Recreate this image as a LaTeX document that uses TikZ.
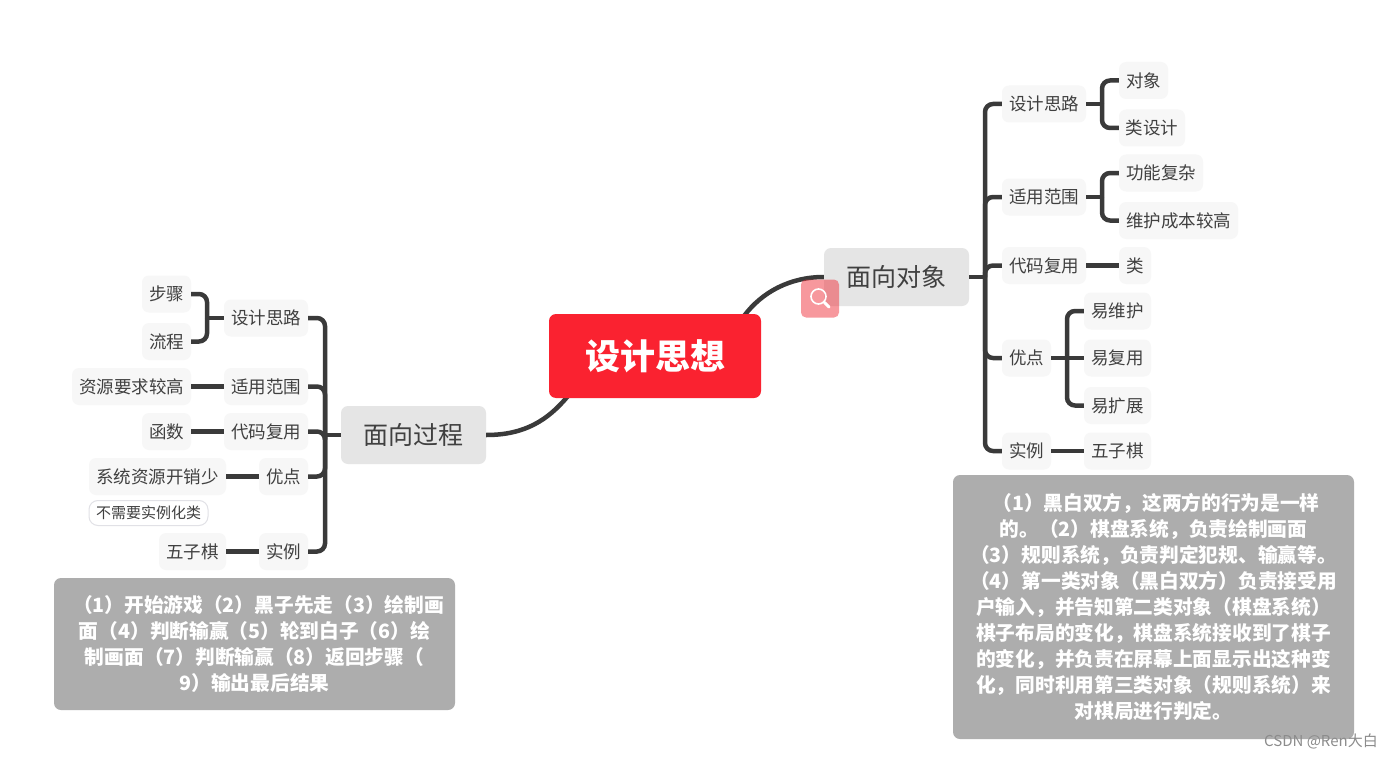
\documentclass[tikz,border=0pt]{standalone}
\usepackage{fontspec}
\setmainfont{Noto Sans CJK SC}
\definecolor{rootred}{RGB}{250,34,48}
\definecolor{mainbox}{RGB}{229,229,229}
\definecolor{leafbox}{RGB}{247,247,247}
\definecolor{notebox}{RGB}{173,173,173}
\definecolor{inktext}{RGB}{64,64,64}
\definecolor{linkink}{RGB}{58,58,58}
\definecolor{markgray}{RGB}{140,140,140}
\definecolor{tagline}{RGB}{225,225,230}
\definecolor{iconred}{RGB}{240,50,60}
\tikzset{
  rootbox/.style={fill=rootred,rounded corners=7pt,text=white,font=\fontsize{35}{40}\selectfont\bfseries,minimum width=212pt,minimum height=84pt,inner sep=0pt},
  mainnode/.style={fill=mainbox,rounded corners=7pt,text=inktext,font=\fontsize{25}{29}\selectfont,minimum width=145pt,minimum height=58pt,inner sep=0pt},
  leaf/.style={fill=leafbox,rounded corners=7pt,text=inktext,font=\fontsize{17.5}{21}\selectfont,minimum height=37pt,inner sep=0pt},
  tagnode/.style={fill=white,draw=tagline,line width=1pt,rounded corners=9pt,text=inktext,font=\fontsize{15}{18}\selectfont,minimum height=25pt,inner sep=0pt},
  notenode/.style={fill=notebox,rounded corners=7pt,text=white,font=\fontsize{19.7}{26}\selectfont\bfseries,align=center,inner sep=0pt},
  link/.style={draw=linkink,line width=4.5pt},
  branch/.style={link,rounded corners=8pt},
  watermark/.style={text=markgray,font=\fontsize{15}{18}\selectfont,inner sep=0pt}
}
\begin{document}
\begin{tikzpicture}[x=1pt,y=-1pt]
\useasboundingbox (0,0) rectangle (1392,757);
\fill[white] (0,0) rectangle (1392,757);
% junctions
\coordinate (rootL) at (568,396);
\coordinate (rootR) at (744,316);
\coordinate (lt) at (325,435);
\coordinate (rt) at (985,277);
\coordinate (ls) at (207,318);
\coordinate (rs1) at (1102,104);
\coordinate (rs2) at (1102,197);
\coordinate (rs3) at (1067,358);
% main nodes
\node[mainnode] (proc) at (413.5,435) {面向过程};
\node[mainnode] (obj) at (896.5,277) {面向对象};
% left
\node[leaf,minimum width=84pt] (l1) at (266,318) {设计思路};
\node[leaf,minimum width=84pt] (l2) at (266,386.5) {适用范围};
\node[leaf,minimum width=84pt] (l3) at (266,431.5) {代码复用};
\node[leaf,minimum width=49pt] (l4) at (283.5,476.5) {优点};
\node[leaf,minimum width=49pt] (l5) at (283.5,551.5) {实例};
\node[leaf,minimum width=49pt] (a1) at (166.5,294) {步骤};
\node[leaf,minimum width=49pt] (a2) at (166.5,341.5) {流程};
\node[leaf,minimum width=119pt] (a3) at (131.5,386.5) {资源要求较高};
\node[leaf,minimum width=49pt] (a4) at (166.5,431.5) {函数};
\node[leaf,minimum width=137pt] (a5) at (157.5,476.5) {系统资源开销少};
\node[tagnode,minimum width=119pt] (tag) at (148.5,513) {不需要实例化类};
\node[leaf,minimum width=67pt] (a6) at (192.5,551.5) {五子棋};
% right
\node[leaf,minimum width=84pt] (r1) at (1044,104) {设计思路};
\node[leaf,minimum width=84pt] (r2) at (1044,197) {适用范围};
\node[leaf,minimum width=84pt] (r3) at (1044,265.5) {代码复用};
\node[leaf,minimum width=49pt] (r4) at (1026.5,358) {优点};
\node[leaf,minimum width=49pt] (r5) at (1026.5,451) {实例};
\node[leaf,minimum width=49pt] (b1) at (1143.5,80.5) {对象};
\node[leaf,minimum width=66pt] (b2) at (1152,128) {类设计};
\node[leaf,minimum width=84pt] (b3) at (1161,173) {功能复杂};
\node[leaf,minimum width=119pt] (b4) at (1178.5,220.5) {维护成本较高};
\node[leaf,minimum width=32pt] (b5) at (1135,265.5) {类};
\node[leaf,minimum width=67pt] (b6) at (1117.5,311) {易维护};
\node[leaf,minimum width=67pt] (b7) at (1117.5,358) {易复用};
\node[leaf,minimum width=67pt] (b8) at (1117.5,405.5) {易扩展};
\node[leaf,minimum width=67pt] (b9) at (1117.5,451) {五子棋};
% connectors
\draw[link] (proc.east) .. controls (525,435) and (548,420) .. (rootL);
\draw[link] (obj.west) .. controls (790,277) and (762,292) .. (rootR);
\node[rootbox] (root) at (655,356) {设计思想};
\draw[link] (proc.west) -- (lt);
\draw[link] (obj.east) -- (rt);
\foreach \c in {l1,l2,l3,l4,l5}{\draw[branch] (\c.east) -| (lt);}
\foreach \c in {r1,r2,r3,r4,r5}{\draw[branch] (\c.west) -| (rt);}
\draw[link] (l1.west) -- (ls);
\draw[branch] (a1.east) -| (ls);
\draw[branch] (a2.east) -| (ls);
\draw[link] (a3) -- (l2);
\draw[link] (a4) -- (l3);
\draw[link] (a5) -- (l4);
\draw[link] (a6) -- (l5);
\draw[link] (r1.east) -- (rs1);
\draw[branch] (b1.west) -| (rs1);
\draw[branch] (b2.west) -| (rs1);
\draw[link] (r2.east) -- (rs2);
\draw[branch] (b3.west) -| (rs2);
\draw[branch] (b4.west) -| (rs2);
\draw[link] (r3) -- (b5);
\draw[link] (r4) -- (b7);
\draw[branch] (b6.west) -| (rs3);
\draw[branch] (b8.west) -| (rs3);
\draw[link] (r5) -- (b9);
% notes
\node[notenode,minimum width=401pt,minimum height=132pt] (nl) at (254.5,644) {\hspace*{8pt}（1）开始游戏（2）黑子先走（3）绘制画\\面（4）判断输赢（5）轮到白子（6）绘\\制画面（7）判断输赢（8）返回步骤（\\9）输出最后结果};
\node[notenode,minimum width=401pt,minimum height=264pt] (nr) at (1153.5,607) {\hspace*{5pt}（1）黑白双方，这两方的行为是一样\\的。（2）棋盘系统，负责绘制画面\\（3）规则系统，负责判定犯规、输赢等。\\（4）第一类对象（黑白双方）负责接受用\\户输入，并告知第二类对象（棋盘系统）\\棋子布局的变化，棋盘系统接收到了棋子\\的变化，并负责在屏幕上面显示出这种变\\化，同时利用第三类对象（规则系统）来\\对棋局进行判定。};
% magnifier overlay
\node[fill=iconred,fill opacity=.5,rounded corners=5pt,minimum width=38pt,minimum height=38pt,inner sep=0pt] (icon) at (820,298.5) {};
\draw[white,line width=1.6pt] (818.5,296.5) circle (7.5pt);
\draw[white,line width=3pt,line cap=round] (824.5,302.5) -- (829,307);
\node[watermark,anchor=east] (wm) at (1378,741) {CSDN @Ren大白};
\end{tikzpicture}
\end{document}
